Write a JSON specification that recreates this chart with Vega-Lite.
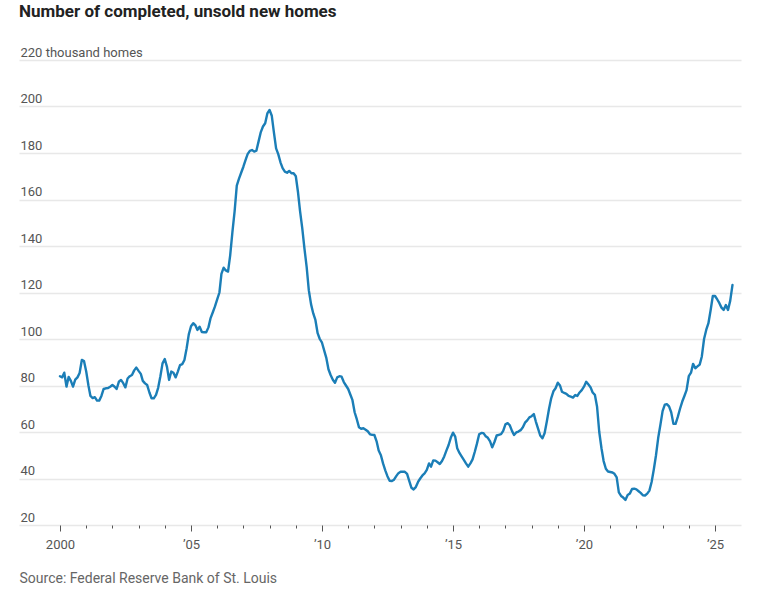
{
  "$schema": "https://vega.github.io/schema/vega-lite/v6.json",
  "autosize": {"type": "none"},
  "padding": {"left": 19, "top": 60, "right": 16, "bottom": 73},
  "width": 722,
  "height": 465,
  "title": {
    "text": "Number of completed, unsold new homes",
    "anchor": "start",
    "frame": "group",
    "fontSize": 17,
    "fontWeight": "bold",
    "color": "#222222",
    "font": "Roboto",
    "offset": 25
  },
  "data": {
    "values": [
      {"d":"2000-01-01","v":84},{"d":"2000-02-01","v":83.5},{"d":"2000-03-01","v":85.5},{"d":"2000-04-01","v":79.5},{"d":"2000-05-01","v":83.7},{"d":"2000-06-01","v":82},{"d":"2000-07-01","v":79.5},{"d":"2000-08-01","v":82.5},{"d":"2000-09-01","v":83.5},{"d":"2000-10-01","v":85.4},{"d":"2000-11-01","v":91},{"d":"2000-12-01","v":90.5},
      {"d":"2001-01-01","v":86},{"d":"2001-02-01","v":80},{"d":"2001-03-01","v":75.5},{"d":"2001-04-01","v":74.6},{"d":"2001-05-01","v":75},{"d":"2001-06-01","v":73.5},{"d":"2001-07-01","v":73.5},{"d":"2001-08-01","v":75.5},{"d":"2001-09-01","v":78.5},{"d":"2001-10-01","v":78.8},{"d":"2001-11-01","v":78.9},{"d":"2001-12-01","v":79.5},
      {"d":"2002-01-01","v":80.2},{"d":"2002-02-01","v":79.5},{"d":"2002-03-01","v":78.5},{"d":"2002-04-01","v":81.6},{"d":"2002-05-01","v":82.4},{"d":"2002-06-01","v":81},{"d":"2002-07-01","v":79.2},{"d":"2002-08-01","v":83},{"d":"2002-09-01","v":84},{"d":"2002-10-01","v":84.5},{"d":"2002-11-01","v":86.5},{"d":"2002-12-01","v":87.7},
      {"d":"2003-01-01","v":86.3},{"d":"2003-02-01","v":85},{"d":"2003-03-01","v":82},{"d":"2003-04-01","v":80.9},{"d":"2003-05-01","v":80.2},{"d":"2003-06-01","v":77},{"d":"2003-07-01","v":74.5},{"d":"2003-08-01","v":74.5},{"d":"2003-09-01","v":76},{"d":"2003-10-01","v":79},{"d":"2003-11-01","v":84},{"d":"2003-12-01","v":89.5},
      {"d":"2004-01-01","v":91.4},{"d":"2004-02-01","v":88},{"d":"2004-03-01","v":82.4},{"d":"2004-04-01","v":86},{"d":"2004-05-01","v":85.5},{"d":"2004-06-01","v":83.5},{"d":"2004-07-01","v":86},{"d":"2004-08-01","v":88.8},{"d":"2004-09-01","v":89.2},{"d":"2004-10-01","v":91},{"d":"2004-11-01","v":96},{"d":"2004-12-01","v":102},
      {"d":"2005-01-01","v":105.5},{"d":"2005-02-01","v":106.8},{"d":"2005-03-01","v":106},{"d":"2005-04-01","v":103.9},{"d":"2005-05-01","v":105.3},{"d":"2005-06-01","v":103},{"d":"2005-07-01","v":102.9},{"d":"2005-08-01","v":102.9},{"d":"2005-09-01","v":105},{"d":"2005-10-01","v":109},{"d":"2005-11-01","v":111.5},{"d":"2005-12-01","v":114},
      {"d":"2006-01-01","v":117},{"d":"2006-02-01","v":120},{"d":"2006-03-01","v":128},{"d":"2006-04-01","v":130.7},{"d":"2006-05-01","v":129.5},{"d":"2006-06-01","v":129},{"d":"2006-07-01","v":136},{"d":"2006-08-01","v":146},{"d":"2006-09-01","v":155},{"d":"2006-10-01","v":166},{"d":"2006-11-01","v":169},{"d":"2006-12-01","v":171.5},
      {"d":"2007-01-01","v":174.1},{"d":"2007-02-01","v":177},{"d":"2007-03-01","v":179.5},{"d":"2007-04-01","v":180.9},{"d":"2007-05-01","v":181.3},{"d":"2007-06-01","v":180.6},{"d":"2007-07-01","v":181},{"d":"2007-08-01","v":185},{"d":"2007-09-01","v":189},{"d":"2007-10-01","v":191.4},{"d":"2007-11-01","v":192.8},{"d":"2007-12-01","v":197},
      {"d":"2008-01-01","v":198.5},{"d":"2008-02-01","v":196},{"d":"2008-03-01","v":189},{"d":"2008-04-01","v":182},{"d":"2008-05-01","v":179.5},{"d":"2008-06-01","v":176},{"d":"2008-07-01","v":173.5},{"d":"2008-08-01","v":172},{"d":"2008-09-01","v":171.5},{"d":"2008-10-01","v":172.3},{"d":"2008-11-01","v":171.3},{"d":"2008-12-01","v":171.3},
      {"d":"2009-01-01","v":170},{"d":"2009-02-01","v":163},{"d":"2009-03-01","v":155},{"d":"2009-04-01","v":147.6},{"d":"2009-05-01","v":139},{"d":"2009-06-01","v":131},{"d":"2009-07-01","v":121},{"d":"2009-08-01","v":115},{"d":"2009-09-01","v":111},{"d":"2009-10-01","v":108.2},{"d":"2009-11-01","v":102.5},{"d":"2009-12-01","v":100},
      {"d":"2010-01-01","v":98.4},{"d":"2010-02-01","v":95},{"d":"2010-03-01","v":92},{"d":"2010-04-01","v":87},{"d":"2010-05-01","v":84.5},{"d":"2010-06-01","v":82.5},{"d":"2010-07-01","v":81.2},{"d":"2010-08-01","v":83.5},{"d":"2010-09-01","v":84},{"d":"2010-10-01","v":83.8},{"d":"2010-11-01","v":81.5},{"d":"2010-12-01","v":80},
      {"d":"2011-01-01","v":78.5},{"d":"2011-02-01","v":76},{"d":"2011-03-01","v":73.8},{"d":"2011-04-01","v":68.5},{"d":"2011-05-01","v":65.5},{"d":"2011-06-01","v":62},{"d":"2011-07-01","v":61.4},{"d":"2011-08-01","v":61.6},{"d":"2011-09-01","v":61},{"d":"2011-10-01","v":60.3},{"d":"2011-11-01","v":59},{"d":"2011-12-01","v":58.8},
      {"d":"2012-01-01","v":58.7},{"d":"2012-02-01","v":56},{"d":"2012-03-01","v":52},{"d":"2012-04-01","v":50},{"d":"2012-05-01","v":46.5},{"d":"2012-06-01","v":43.5},{"d":"2012-07-01","v":41},{"d":"2012-08-01","v":39},{"d":"2012-09-01","v":38.9},{"d":"2012-10-01","v":39.5},{"d":"2012-11-01","v":41},{"d":"2012-12-01","v":42.3},
      {"d":"2013-01-01","v":42.9},{"d":"2013-02-01","v":42.9},{"d":"2013-03-01","v":42.9},{"d":"2013-04-01","v":42},{"d":"2013-05-01","v":39},{"d":"2013-06-01","v":36},{"d":"2013-07-01","v":35.3},{"d":"2013-08-01","v":36.3},{"d":"2013-09-01","v":38.5},{"d":"2013-10-01","v":40},{"d":"2013-11-01","v":41.3},{"d":"2013-12-01","v":42.2},
      {"d":"2014-01-01","v":43.7},{"d":"2014-02-01","v":46.5},{"d":"2014-03-01","v":45.1},{"d":"2014-04-01","v":47.8},{"d":"2014-05-01","v":47.7},{"d":"2014-06-01","v":47},{"d":"2014-07-01","v":46.2},{"d":"2014-08-01","v":47.5},{"d":"2014-09-01","v":49.5},{"d":"2014-10-01","v":52},{"d":"2014-11-01","v":54.4},{"d":"2014-12-01","v":57.5},
      {"d":"2015-01-01","v":59.7},{"d":"2015-02-01","v":58},{"d":"2015-03-01","v":53},{"d":"2015-04-01","v":51},{"d":"2015-05-01","v":49.5},{"d":"2015-06-01","v":48},{"d":"2015-07-01","v":46.5},{"d":"2015-08-01","v":45.1},{"d":"2015-09-01","v":46.5},{"d":"2015-10-01","v":48.2},{"d":"2015-11-01","v":51.5},{"d":"2015-12-01","v":55},
      {"d":"2016-01-01","v":59},{"d":"2016-02-01","v":59.6},{"d":"2016-03-01","v":59.5},{"d":"2016-04-01","v":58.2},{"d":"2016-05-01","v":57.5},{"d":"2016-06-01","v":56},{"d":"2016-07-01","v":53.4},{"d":"2016-08-01","v":55.7},{"d":"2016-09-01","v":58.5},{"d":"2016-10-01","v":58.8},{"d":"2016-11-01","v":59.1},{"d":"2016-12-01","v":60.5},
      {"d":"2017-01-01","v":63.3},{"d":"2017-02-01","v":63.8},{"d":"2017-03-01","v":63},{"d":"2017-04-01","v":60.6},{"d":"2017-05-01","v":58.7},{"d":"2017-06-01","v":59.8},{"d":"2017-07-01","v":60.2},{"d":"2017-08-01","v":60.8},{"d":"2017-09-01","v":62},{"d":"2017-10-01","v":64},{"d":"2017-11-01","v":65},{"d":"2017-12-01","v":66.3},
      {"d":"2018-01-01","v":66.8},{"d":"2018-02-01","v":67.7},{"d":"2018-03-01","v":64.5},{"d":"2018-04-01","v":61.5},{"d":"2018-05-01","v":58.5},{"d":"2018-06-01","v":57.3},{"d":"2018-07-01","v":59.5},{"d":"2018-08-01","v":64.5},{"d":"2018-09-01","v":70},{"d":"2018-10-01","v":74.5},{"d":"2018-11-01","v":77.5},{"d":"2018-12-01","v":78.8},
      {"d":"2019-01-01","v":81.2},{"d":"2019-02-01","v":80},{"d":"2019-03-01","v":77.3},{"d":"2019-04-01","v":76.8},{"d":"2019-05-01","v":76.4},{"d":"2019-06-01","v":75.5},{"d":"2019-07-01","v":75.2},{"d":"2019-08-01","v":74.8},{"d":"2019-09-01","v":75.9},{"d":"2019-10-01","v":75.5},{"d":"2019-11-01","v":77},{"d":"2019-12-01","v":78},
      {"d":"2020-01-01","v":79.5},{"d":"2020-02-01","v":81.6},{"d":"2020-03-01","v":80.5},{"d":"2020-04-01","v":79.3},{"d":"2020-05-01","v":77},{"d":"2020-06-01","v":76},{"d":"2020-07-01","v":71},{"d":"2020-08-01","v":60},{"d":"2020-09-01","v":53},{"d":"2020-10-01","v":47.5},{"d":"2020-11-01","v":44.2},{"d":"2020-12-01","v":43},
      {"d":"2021-01-01","v":42.8},{"d":"2021-02-01","v":42.6},{"d":"2021-03-01","v":42},{"d":"2021-04-01","v":40.5},{"d":"2021-05-01","v":34},{"d":"2021-06-01","v":32.5},{"d":"2021-07-01","v":31.8},{"d":"2021-08-01","v":30.8},{"d":"2021-09-01","v":32.9},{"d":"2021-10-01","v":33.5},{"d":"2021-11-01","v":35.5},{"d":"2021-12-01","v":35.6},
      {"d":"2022-01-01","v":35.3},{"d":"2022-02-01","v":34.5},{"d":"2022-03-01","v":33.8},{"d":"2022-04-01","v":32.8},{"d":"2022-05-01","v":32.7},{"d":"2022-06-01","v":33.5},{"d":"2022-07-01","v":34.8},{"d":"2022-08-01","v":38.5},{"d":"2022-09-01","v":44},{"d":"2022-10-01","v":50},{"d":"2022-11-01","v":57.5},{"d":"2022-12-01","v":63},
      {"d":"2023-01-01","v":69},{"d":"2023-02-01","v":71.8},{"d":"2023-03-01","v":72},{"d":"2023-04-01","v":71},{"d":"2023-05-01","v":68.5},{"d":"2023-06-01","v":63.5},{"d":"2023-07-01","v":63.5},{"d":"2023-08-01","v":66.5},{"d":"2023-09-01","v":70},{"d":"2023-10-01","v":73},{"d":"2023-11-01","v":75.5},{"d":"2023-12-01","v":78},
      {"d":"2024-01-01","v":84},{"d":"2024-02-01","v":85.5},{"d":"2024-03-01","v":89.3},{"d":"2024-04-01","v":87.4},{"d":"2024-05-01","v":88.2},{"d":"2024-06-01","v":89},{"d":"2024-07-01","v":92.5},{"d":"2024-08-01","v":100},{"d":"2024-09-01","v":104},{"d":"2024-10-01","v":106.8},{"d":"2024-11-01","v":112.5},{"d":"2024-12-01","v":118.5},
      {"d":"2025-01-01","v":118.5},{"d":"2025-02-01","v":117},{"d":"2025-03-01","v":115.5},{"d":"2025-04-01","v":113.5},{"d":"2025-05-01","v":112.5},{"d":"2025-06-01","v":114.6},{"d":"2025-07-01","v":112.5},{"d":"2025-08-01","v":116.5},{"d":"2025-09-01","v":123.2}
    ]
  },
  "mark": {"type": "line", "color": "#1b7eb7", "strokeWidth": 2.4, "strokeJoin": "round", "strokeCap": "round", "clip": false},
  "encoding": {
    "x": {
      "field": "d",
      "type": "temporal",
      "scale": {"domain": ["1998-06-09", "2025-12-29"]},
      "axis": {
        "orient": "bottom",
        "grid": false,
        "domain": false,
        "ticks": true,
        "tickColor": "#555555",
        "tickWidth": 1,
        "tickSize": {"condition": {"test": "year(datum.value) % 5 === 0", "value": 6}, "value": 3},
        "values": ["2000-01-01","2001-01-01","2002-01-01","2003-01-01","2004-01-01","2005-01-01","2006-01-01","2007-01-01","2008-01-01","2009-01-01","2010-01-01","2011-01-01","2012-01-01","2013-01-01","2014-01-01","2015-01-01","2016-01-01","2017-01-01","2018-01-01","2019-01-01","2020-01-01","2021-01-01","2022-01-01","2023-01-01","2024-01-01","2025-01-01"],
        "labelExpr": "year(datum.value) == 2000 ? '2000' : (year(datum.value) % 5 == 0 ? '’' + timeFormat(datum.value, '%y') : '')",
        "labelFont": "Roboto",
        "labelFontSize": 13,
        "labelColor": "#555555",
        "labelPadding": 7,
        "labelFlush": false,
        "labelOverlap": false,
        "labelBound": false,
        "title": "Source: Federal Reserve Bank of St. Louis",
        "titleFont": "Roboto",
        "titleFontSize": 14,
        "titleFontWeight": "normal",
        "titleColor": "#666666",
        "titleAnchor": "start",
        "titleAlign": "left",
        "titleBaseline": "alphabetic",
        "titleX": 0,
        "titleY": 57
      }
    },
    "y": {
      "field": "v",
      "type": "quantitative",
      "scale": {"domain": [20, 220], "nice": false, "zero": false},
      "axis": {
        "orient": "left",
        "domain": false,
        "ticks": false,
        "tickSize": 0,
        "grid": true,
        "gridColor": "#e8e8e8",
        "gridWidth": 1.5,
        "values": [20, 40, 60, 80, 100, 120, 140, 160, 180, 200, 220],
        "labelExpr": "datum.value == 220 ? '220 thousand homes' : datum.label",
        "labelAlign": "left",
        "labelBaseline": "alphabetic",
        "labelPadding": -1,
        "labelOffset": -4,
        "labelFont": "Roboto",
        "labelFontSize": 13,
        "labelColor": "#555555",
        "labelOverlap": false,
        "labelBound": false,
        "labelFlush": false,
        "title": null
      }
    }
  },
  "config": {"view": {"stroke": null}, "font": "Roboto"}
}
